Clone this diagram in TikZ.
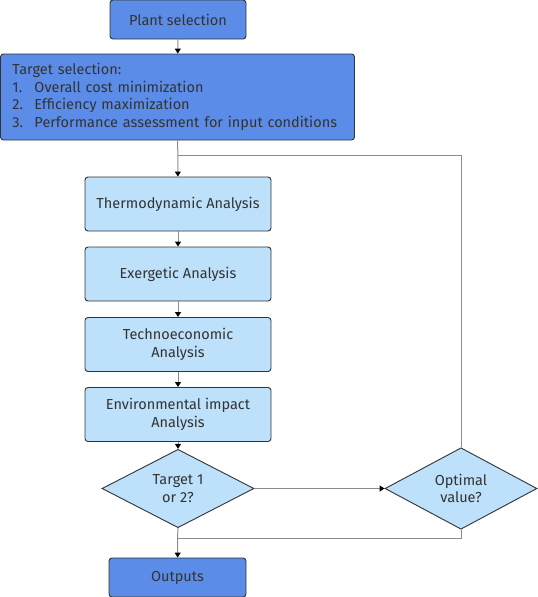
\documentclass[tikz,border=0pt]{standalone}
\usepackage{fontspec}
\setmainfont{Fira Sans}
\usetikzlibrary{shapes.geometric, arrows.meta}
\definecolor{darkfill}{HTML}{5B8CE8}
\definecolor{lightfill}{HTML}{BDE0FB}
\definecolor{edgegray}{HTML}{333333}
\definecolor{linegray}{HTML}{8C8C8C}
\tikzset{
    boxtext/.style={font=\fontsize{14.5}{17.6}\selectfont, text=black!80},
    darkbox/.style={boxtext, draw=edgegray, fill=darkfill, rounded corners=3pt, line width=0.9pt, inner sep=0pt},
    lightbox/.style={boxtext, draw=edgegray, fill=lightfill, rounded corners=3pt, line width=0.9pt, align=center, inner sep=0pt, minimum width=186, minimum height=54},
    decision/.style={boxtext, diamond, draw=edgegray, fill=lightfill, line width=0.9pt, align=center, inner sep=0pt, minimum width=152, minimum height=71},
    flowline/.style={draw=linegray, line width=1pt},
    flowarrow/.style={flowline, -{Triangle[length=5pt, width=6pt, color=black]}}
}

\begin{document}
\begin{tikzpicture}[x=1pt, y=-1pt]

        \useasboundingbox (0,0) rectangle (538,597);

        % ================= TOP: plant and targets =================
        \node[darkbox, minimum width=136, minimum height=39] (plant) at (178,19.5) {Plant selection};
        \node[darkbox, inner xsep=12pt, text width=330pt, minimum height=86, align=left] (target) at (177.5,97)
            {Target selection:\\
             \makebox[22pt][l]{1.}Overall cost minimization\\
             \makebox[22pt][l]{2.}Efficiency maximization\\
             \makebox[22pt][l]{3.}Performance assessment for input conditions};

        % ================= MIDDLE: analyses =================
        \node[lightbox] (thermo) at (178,204) {Thermodynamic Analysis};
        \node[lightbox] (exergy) at (178,274) {Exergetic Analysis};
        \node[lightbox] (techno) at (178,344.5) {Technoeconomic\\Analysis};
        \node[lightbox] (enviro) at (178,414.5) {Environmental impact\\Analysis};

        % ================= BOTTOM: decisions and outputs =================
        \node[decision] (target12) at (178,488.5) {Target 1\\or 2?};
        \node[decision] (optimal) at (461,488.5) {Optimal\\value?};
        \node[darkbox, minimum width=137, minimum height=39] (outputs) at (177.5,577.5) {Outputs};

        % --- Join points ---
        \coordinate (looptop) at (178,155);
        \coordinate (loopbot) at (178,538);

        % --- Connectors ---
        \draw[flowarrow] (plant) -- (target);
        \draw[flowarrow] (target) -- (thermo);
        \draw[flowarrow] (thermo) -- (exergy);
        \draw[flowarrow] (exergy) -- (techno);
        \draw[flowarrow] (techno) -- (enviro);
        \draw[flowarrow] (enviro) -- (target12);
        \draw[flowarrow] (target12) -- (optimal);
        \draw[flowarrow] (target12) -- (outputs);
        \draw[flowline] (optimal.north) |- (looptop);
        \draw[flowline] (optimal.south) |- (loopbot);

        \end{tikzpicture}
\end{document}
